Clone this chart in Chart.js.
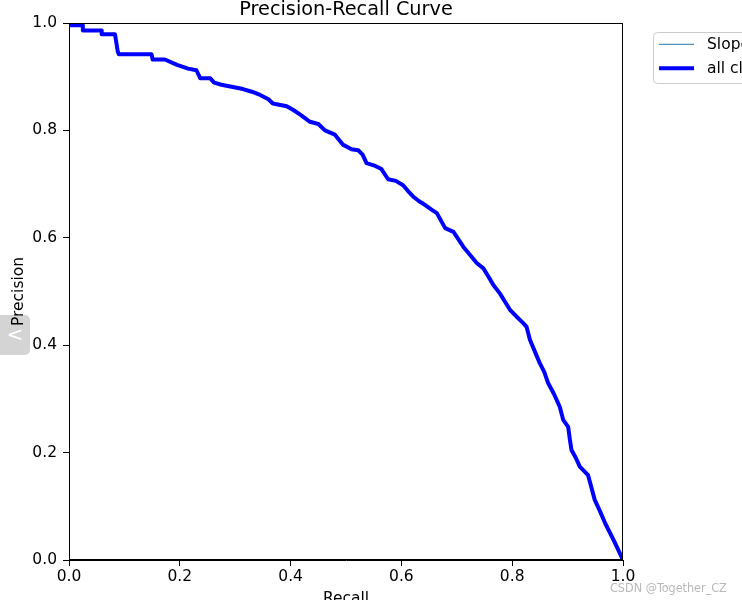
<!DOCTYPE html>
<html>
<head>
<meta charset="utf-8">
<script src="https://cdn.jsdelivr.net/npm/chart.js@4/dist/chart.umd.min.js"></script>
<style>
  html, body { margin: 0; padding: 0; background: #fff; overflow: hidden; width: 742px; height: 600px; }
  #wrap { position: relative; width: 742px; height: 600px; overflow: hidden; }
  #grafico { position: absolute; left: 0; top: 0; z-index: 2; }
  #seta { position: absolute; left: 0; top: 315px; width: 30px; height: 40px; background: #d4d4d4;
          border-radius: 0 5px 5px 0; z-index: 1; color: #fff; font: 20px 'DejaVu Sans'; line-height: 38px; text-align: center; }
  #marca { position: absolute; left: 610px; top: 580px; z-index: 3; color: #b8b8b8;
           font: 12.5px 'DejaVu Sans Condensed', 'DejaVu Sans'; white-space: nowrap; }
</style>
</head>
<body>
<div id="wrap">
  <div id="seta">&lt;</div>
  <canvas id="grafico" width="880" height="620"></canvas>
  <div id="marca">CSDN @Together_CZ</div>
</div>
<script>
// valores
const recall = [
  0.000, 0.025, 0.025, 0.059, 0.059, 0.083, 0.088, 0.090, 0.149, 0.151,
  0.173, 0.195, 0.215, 0.230, 0.237, 0.255, 0.262, 0.275, 0.314, 0.330,
  0.345, 0.360, 0.368, 0.393, 0.405, 0.418, 0.435, 0.450, 0.462, 0.480,
  0.495, 0.510, 0.522, 0.530, 0.537, 0.550, 0.564, 0.576, 0.590, 0.603,
  0.612, 0.621, 0.632, 0.643, 0.655, 0.664, 0.679, 0.694, 0.703, 0.712,
  0.724, 0.736, 0.748, 0.757, 0.766, 0.778, 0.787, 0.796, 0.808, 0.820,
  0.826, 0.832, 0.841, 0.850, 0.858, 0.865, 0.875, 0.886, 0.892, 0.901,
  0.904, 0.907, 0.915, 0.922, 0.937, 0.943, 0.949, 0.958, 0.968, 0.984,
  1.000
];
const precision = [
  0.996, 0.996, 0.986, 0.986, 0.979, 0.979, 0.947, 0.942, 0.942, 0.932,
  0.932, 0.922, 0.915, 0.912, 0.897, 0.897, 0.889, 0.885, 0.877, 0.872,
  0.866, 0.858, 0.850, 0.845, 0.838, 0.829, 0.816, 0.812, 0.800, 0.792,
  0.773, 0.765, 0.763, 0.755, 0.739, 0.735, 0.728, 0.709, 0.706, 0.698,
  0.687, 0.677, 0.668, 0.661, 0.652, 0.646, 0.618, 0.611, 0.597, 0.583,
  0.568, 0.553, 0.543, 0.528, 0.512, 0.496, 0.481, 0.466, 0.453, 0.441,
  0.434, 0.410, 0.388, 0.366, 0.350, 0.329, 0.310, 0.285, 0.261, 0.248,
  0.225, 0.205, 0.190, 0.174, 0.158, 0.135, 0.112, 0.092, 0.068, 0.035,
  0.000
];
const tickValues = [0.0, 0.2, 0.4, 0.6, 0.8, 1.0];
const seriesLabels = ['Slope 0.684', 'all classes 0.684 mAP@0.5'];

const pontos = recall.map((r, i) => ({ x: r, y: precision[i] }));
const fonte = 'DejaVu Sans';
Chart.defaults.font.family = fonte;
Chart.defaults.color = '#000';

// moldura completa do gráfico (as 4 bordas)
const moldura = {
  id: 'moldura',
  afterDraw(chart) {
    const { ctx, chartArea: a } = chart;
    ctx.save();
    ctx.strokeStyle = '#000';
    ctx.lineWidth = 1;
    ctx.strokeRect(Math.round(a.left) + 0.5, Math.round(a.top) + 0.5,
                   Math.round(a.right - a.left) - 1, Math.round(a.bottom - a.top) - 1);
    ctx.restore();
  }
};

// legenda no estilo matplotlib, fora da área do gráfico
const legenda = {
  id: 'legenda',
  afterDraw(chart) {
    const { ctx, chartArea: a } = chart;
    const x0 = a.right + 30, y0 = a.top + 9;
    const itens = [chart.data.datasets[1], chart.data.datasets[0]];
    ctx.save();
    ctx.font = '15.5px ' + fonte;
    let larg = 0;
    itens.forEach(d => { larg = Math.max(larg, ctx.measureText(d.label).width); });
    const w = 54 + larg + 8, h = 51;
    ctx.beginPath();
    ctx.roundRect(x0 + 0.5, y0 + 0.5, w, h, 4);
    ctx.fillStyle = 'rgba(255,255,255,0.8)';
    ctx.fill();
    ctx.strokeStyle = '#cccccc';
    ctx.lineWidth = 1;
    ctx.stroke();
    itens.forEach((d, i) => {
      const y = y0 + 12.3 + i * 24;
      ctx.beginPath();
      ctx.moveTo(x0 + 6, y);
      ctx.lineTo(x0 + 41, y);
      ctx.strokeStyle = d.borderColor;
      ctx.lineWidth = d.borderWidth;
      ctx.stroke();
      ctx.fillStyle = '#000';
      ctx.textBaseline = 'middle';
      ctx.fillText(d.label, x0 + 54, y + 1);
    });
    ctx.restore();
  }
};

const eixo = (titulo, extra) => Object.assign({
  type: 'linear',
  min: 0,
  max: 1,
  grid: { drawOnChartArea: false, drawTicks: true, tickLength: 6, color: '#000' },
  border: { display: true, color: '#000', width: 1 },
  afterBuildTicks: s => { s.ticks = tickValues.map(v => ({ value: v })); },
  ticks: {
    font: { size: 15.5 },
    color: '#000',
    maxRotation: 0,
    autoSkip: false,
    callback: v => Number(v).toFixed(1)
  },
  title: { display: true, text: titulo, font: { size: 15.5, lineHeight: 1.2 }, color: '#000' }
}, extra);

const xOpts = eixo('Recall', { afterFit: s => { s.height = 60; } });
xOpts.ticks.padding = 2;
xOpts.title.padding = { top: 0, bottom: 12 };
const yOpts = eixo('Precision', { afterFit: s => { s.width = 69; } });
yOpts.ticks.padding = 6;
yOpts.title.padding = { top: 10, bottom: 0 };

// eixo superior só para o título, centrado sobre a área do gráfico
const topoOpts = {
  type: 'linear',
  position: 'top',
  min: 0,
  max: 1,
  grid: { display: false },
  border: { display: false },
  ticks: { display: false },
  afterFit: s => { s.height = 23; },
  title: {
    display: true,
    text: 'Precision-Recall Curve',
    font: { size: 19.3, lineHeight: 1.0 },
    color: '#000',
    padding: { top: 0, bottom: 0 }
  }
};

const ctx = document.getElementById('grafico').getContext('2d');
new Chart(ctx, {
  type: 'line',
  data: {
    datasets: [
      {
        label: seriesLabels[1],
        data: pontos,
        borderColor: '#0000ff',
        borderWidth: 4,
        pointRadius: 0,
        tension: 0,
        borderJoinStyle: 'round',
        order: 0
      },
      {
        label: seriesLabels[0],
        data: pontos,
        borderColor: '#1f77b4',
        borderWidth: 1,
        pointRadius: 0,
        tension: 0,
        order: 1
      }
    ]
  },
  options: {
    responsive: false,
    animation: false,
    layout: { padding: { left: 0, right: 257, top: 0, bottom: 0 }, autoPadding: false },
    plugins: {
      legend: { display: false },
      tooltip: { enabled: false }
    },
    scales: { x: xOpts, y: yOpts, topo: topoOpts }
  },
  plugins: [moldura, legenda]
});
</script>
</body>
</html>
